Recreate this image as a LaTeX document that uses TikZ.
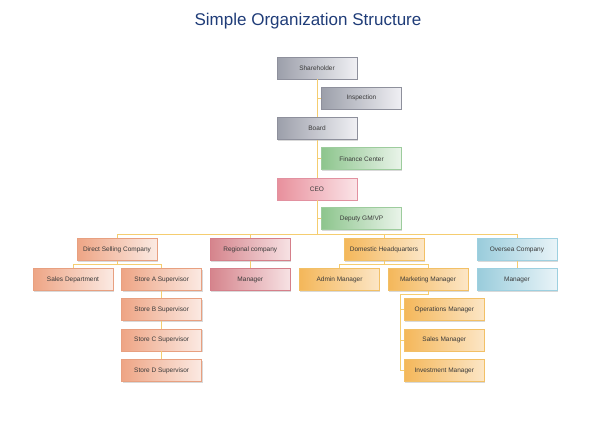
\documentclass[tikz,border=0pt]{standalone}
\usepackage{fontspec}
\setmainfont{Liberation Sans}
\usetikzlibrary{shadows}
\definecolor{titleblue}{HTML}{1F3C78}
\definecolor{linkgold}{HTML}{F5CD70}
\definecolor{textgray}{HTML}{3A3A3A}
\definecolor{grayL}{HTML}{9C9FAA}\definecolor{grayR}{HTML}{F0F0F4}\definecolor{grayD}{HTML}{8E909C}
\definecolor{greenL}{HTML}{8DC58D}\definecolor{greenR}{HTML}{EAF4EA}\definecolor{greenD}{HTML}{9DCC9D}
\definecolor{roseL}{HTML}{E8909C}\definecolor{roseR}{HTML}{FBE4E8}\definecolor{roseD}{HTML}{E291A0}
\definecolor{salmonL}{HTML}{EEA585}\definecolor{salmonR}{HTML}{FBEAE3}\definecolor{salmonD}{HTML}{E8A080}
\definecolor{redL}{HTML}{D5848C}\definecolor{redR}{HTML}{F7E2E4}\definecolor{redD}{HTML}{D57F8A}
\definecolor{orangeL}{HTML}{F4B75A}\definecolor{orangeR}{HTML}{FCE6C6}\definecolor{orangeD}{HTML}{F2C066}
\definecolor{blueL}{HTML}{99CCDB}\definecolor{blueR}{HTML}{E9F4F8}\definecolor{blueD}{HTML}{9DD0E0}
\tikzset{
  box/.style={draw, line width=0.8pt, minimum width=80pt, minimum height=22pt, inner sep=0pt,
    font=\fontsize{6.5}{7.5}\selectfont, text=textgray,
    drop shadow={opacity=0.3, shadow xshift=0.8pt, shadow yshift=-1.2pt}},
  graybox/.style={box, draw=grayD, left color=grayL, right color=grayR},
  greenbox/.style={box, draw=greenD, left color=greenL, right color=greenR},
  rosebox/.style={box, draw=roseD, left color=roseL, right color=roseR},
  salmonbox/.style={box, draw=salmonD, left color=salmonL, right color=salmonR},
  redbox/.style={box, draw=redD, left color=redL, right color=redR},
  orangebox/.style={box, draw=orangeD, left color=orangeL, right color=orangeR},
  bluebox/.style={box, draw=blueD, left color=blueL, right color=blueR},
  link/.style={draw=linkgold, line width=0.8pt}
}
\begin{document}
\begin{tikzpicture}[x=1pt,y=-1pt]
  \useasboundingbox (0,0) rectangle (600,424);
  % title
  \node[font=\fontsize{17}{20}\selectfont, text=titleblue] (title) at (308,21) {Simple Organization Structure};
  % top chain
  \node[graybox] (sh) at (317,68) {Shareholder};
  \node[graybox] (insp) at (361.5,98) {Inspection};
  \node[graybox] (board) at (317,128.5) {Board};
  \node[greenbox] (fin) at (361.5,158.7) {Finance Center};
  \node[rosebox] (ceo) at (317,189) {CEO};
  \node[greenbox] (vp) at (361.5,218.7) {Deputy GM/VP};
  % companies
  \node[salmonbox] (dsc) at (117,249.5) {Direct Selling Company};
  \node[redbox] (rsc) at (250.3,249.5) {Regional company};
  \node[orangebox] (dhq) at (384,249.5) {Domestic Headquarters};
  \node[bluebox] (osc) at (517,249.5) {Oversea Company};
  % third row
  \node[salmonbox] (sales) at (73,279.5) {Sales Department};
  \node[salmonbox] (sta) at (161.7,279.5) {Store A Supervisor};
  \node[salmonbox] (stb) at (161.7,309.7) {Store B Supervisor};
  \node[salmonbox] (stc) at (161.7,340) {Store C Supervisor};
  \node[salmonbox] (std) at (161.7,370.5) {Store D Supervisor};
  \node[redbox] (rmgr) at (250.3,279.5) {Manager};
  \node[orangebox] (adm) at (339.5,279.5) {Admin Manager};
  \node[orangebox] (mkt) at (428,279.5) {Marketing Manager};
  \node[orangebox] (ops) at (444.3,309.7) {Operations Manager};
  \node[orangebox] (smgr) at (444.3,340) {Sales Manager};
  \node[orangebox] (inv) at (444.3,370.5) {Investment Manager};
  \node[bluebox] (omgr) at (517,279.5) {Manager};
  % connectors
  \coordinate (bus) at (317,234);
  \coordinate (rail) at (400,294.7);
  \draw[link] (sh.south) -- (board.north);
  \draw[link] (board.south) -- (ceo.north);
  \draw[link] (ceo.south) -- (bus);
  \draw[link] (insp.west) -- (insp.west -| sh.south);
  \draw[link] (fin.west) -- (fin.west -| board.south);
  \draw[link] (vp.west) -- (vp.west -| ceo.south);
  \draw[link] (dsc.north) -- (dsc.north |- bus) -- (osc.north |- bus) -- (osc.north);
  \draw[link] (rsc.north) -- (rsc.north |- bus);
  \draw[link] (dhq.north) -- (dhq.north |- bus);
  \draw[link] (dsc.south) -- ++(0,3.6) coordinate (dscfork);
  \draw[link] (sales.north) |- (dscfork) -| (sta.north);
  \draw[link] (dhq.south) -- ++(0,3.6) coordinate (dhqfork);
  \draw[link] (adm.north) |- (dhqfork) -| (mkt.north);
  \draw[link] (rsc.south) -- (rmgr.north);
  \draw[link] (osc.south) -- (omgr.north);
  \draw[link] (sta.south) -- (stb.north);
  \draw[link] (stb.south) -- (stc.north);
  \draw[link] (stc.south) -- (std.north);
  \draw[link] (mkt.south) |- (rail) |- (inv.west);
  \draw[link] (ops.west) -- (ops.west -| rail);
  \draw[link] (smgr.west) -- (smgr.west -| rail);
\end{tikzpicture}
\end{document}
